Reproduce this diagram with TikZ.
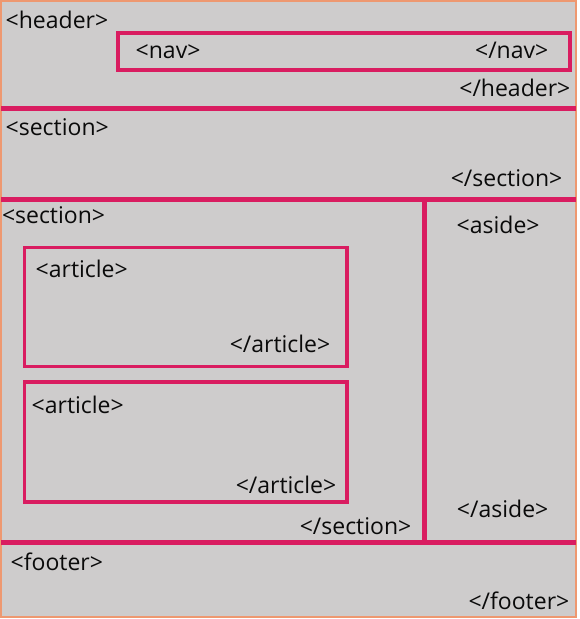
\documentclass[tikz,border=0pt]{standalone}
\usepackage{fontspec}
\setmainfont{Open Sans}
\definecolor{bggray}{RGB}{206,204,204}
\definecolor{edgeorange}{RGB}{238,152,112}
\definecolor{tagpink}{RGB}{217,28,96}
\definecolor{tagtext}{RGB}{10,10,10}
\begin{document}
\begin{tikzpicture}[x=1pt,y=-1pt,
  bigline/.style={draw=tagpink,line width=5pt},
  boxline/.style={draw=tagpink,line width=3.6pt},
  tag/.style={inner sep=0pt,text=tagtext,font=\fontsize{23}{27}\selectfont},
  lt/.style={tag,anchor=base west},
  rt/.style={tag,anchor=base east}]
\useasboundingbox (0,0) rectangle (579,619);
\fill[white] (0,0) rectangle (579,619);
\fill[bggray] (0,0) rectangle (577,618);
\draw[edgeorange,line width=1.5pt] (1.2,1.2) rectangle (575.8,616.8);
% layout lines
\draw[bigline] (1,108.5) -- (576,108.5);
\draw[bigline] (1,199) -- (576,199);
\draw[bigline] (1,542.5) -- (576,542.5);
\draw[bigline] (424.5,199) -- (424.5,542.5);
% nav and articles
\draw[boxline] (118,33) rectangle (570,70);
\draw[boxline] (24.5,247.5) rectangle (347,366.5);
\draw[boxline] (24.5,382) rectangle (347,502);
% labels
\node[lt] (hdrO) at (5.5,28) {<header>};
\node[lt] (navO) at (135.5,58.5) {<nav>};
\node[rt] (navC) at (548.5,58) {</nav>};
\node[rt] (hdrC) at (570.5,96) {</header>};
\node[lt] (secAO) at (5.5,135) {<section>};
\node[rt] (secAC) at (562.5,186) {</section>};
\node[lt] (secBO) at (1.8,223) {<section>};
\node[lt] (asdO) at (456.5,233) {<aside>};
\node[lt] (artAO) at (35.5,277) {<article>};
\node[rt] (artAC) at (330.5,352) {</article>};
\node[lt] (artBO) at (31.5,413) {<article>};
\node[rt] (artBC) at (336.5,493) {</article>};
\node[rt] (secBC) at (411.5,534) {</section>};
\node[rt] (asdC) at (548.5,517) {</aside>};
\node[lt] (ftrO) at (10.5,570) {<footer>};
\node[rt] (ftrC) at (569.5,609) {</footer>};
\end{tikzpicture}
\end{document}
